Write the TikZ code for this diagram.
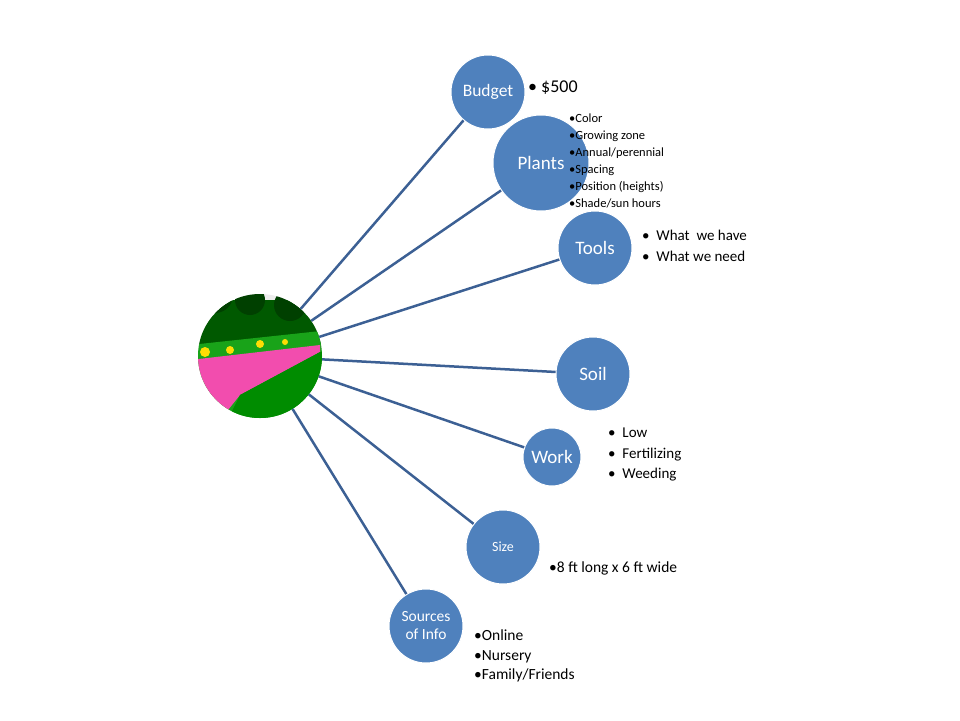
\documentclass[tikz,border=0pt]{standalone}
\usepackage{fontspec}
\setmainfont{Carlito}
\begin{document}
\begin{tikzpicture}[x=1pt,y=-1pt,
  bub/.style={circle,fill={rgb,255:red,79;green,129;blue,189},draw={rgb,255:red,255;green,255;blue,255},line width=1pt,text=white,inner sep=0pt,align=center},
  link/.style={draw={rgb,255:red,60;green,96;blue,148},line width=2.5pt},
  lst/.style={anchor=north west,align=left,inner sep=0pt}]
\useasboundingbox (0,0) rectangle (960,720);
% photo
\begin{scope}
\clip (260,356) circle (62);
\fill[gray!15] (190,290) rectangle (330,425);
\fill[green!35!black] (195,300) rectangle (330,345);
\fill[green!25!black] (215,295) circle (18) (250,300) circle (15) (290,305) circle (16);
\fill[green!60!black!90] (190,345) -- (330,330) -- (330,425) -- (190,425) -- cycle;
\fill[magenta!70] (190,360) -- (320,345) -- (320,352) -- (240,395) -- (220,420) -- (190,420) -- cycle;
\fill[yellow!80!orange] (205,352) circle (5) (230,350) circle (4) (260,344) circle (4) (285,342) circle (3);
\fill[green!55!black] (240,395) -- (320,352) -- (330,352) -- (330,425) -- (225,425) -- cycle;
\end{scope}
\node[circle,minimum size=124pt,inner sep=0pt] (photo) at (260,356) {};
% bubbles
\node[bub,minimum size=74pt,font=\fontsize{17.5}{17}\selectfont] (budget) at (488,92) {Budget};
\node[bub,minimum size=96pt,font=\fontsize{19}{19}\selectfont] (plants) at (541,163) {Plants};
\node[bub,minimum size=74pt,font=\fontsize{19}{19}\selectfont] (tools) at (595,248) {Tools};
\node[bub,minimum size=74pt,font=\fontsize{19}{19}\selectfont] (soil) at (593,374) {Soil};
\node[bub,minimum size=58pt,font=\fontsize{19}{19}\selectfont] (work) at (552,457) {Work};
\node[bub,minimum size=74pt,font=\fontsize{14}{14}\selectfont] (size) at (503,547) {Size};
\node[bub,minimum size=74pt,font=\fontsize{15.5}{18}\selectfont] (src) at (426,626) {Sources\\of Info};
\foreach \n in {budget,plants,tools,soil,work,size,src} \path[link] (photo) -- (\n);
% lists
\node[lst,font=\fontsize{18}{18}\selectfont] (l1) at (528,81) {• \$500};
\node[lst,font=\fontsize{12.5}{17}\selectfont] (l2) at (569,114) {•Color\\•Growing zone\\•Annual/perennial\\•Spacing\\•Position (heights)\\•Shade/sun hours};
\node[lst,font=\fontsize{15}{20.5}\selectfont] (l3) at (642,230) {•\ \ What\ \ we have\\•\ \ What we need};
\node[lst,font=\fontsize{15}{20.5}\selectfont] (l4) at (608,428) {•\ \ Low\\•\ \ Fertilizing\\•\ \ Weeding};
\node[lst,font=\fontsize{15.5}{15}\selectfont] (l5) at (549,562) {•8 ft long x 6 ft wide};
\node[lst,font=\fontsize{15.5}{19.5}\selectfont] (l6) at (474,630) {•Online\\•Nursery\\•Family/Friends};
\end{tikzpicture}
\end{document}
